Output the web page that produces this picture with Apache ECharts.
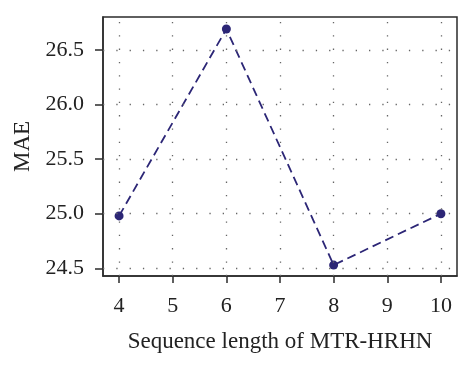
<!DOCTYPE html>
<html>
<head>
<meta charset="utf-8">
<script src="https://cdn.jsdelivr.net/npm/echarts@6/dist/echarts.min.js"></script>
<style>
  html, body { margin: 0; padding: 0; background: #fff; }
  #chart { width: 474px; height: 368px; }
</style>
</head>
<body>
<div id="chart"></div>
<script>
const seqLengths = [4, 6, 8, 10]
const maeValues = [24.98, 26.69, 24.53, 25.0]
const xTicks = [4, 5, 6, 7, 8, 9, 10]
const yTicks = [24.5, 25.0, 25.5, 26.0, 26.5]

const chart = echarts.init(document.getElementById('chart'))
const font = 'Liberation Serif, DejaVu Serif, serif'
const frame = '#2b2b2b'
const dots = { color: '#666', width: 1.3, type: [1.3, 12] }

chart.setOption({
  animation: false,
  grid: { left: 103, right: 17, top: 17, bottom: 92, show: true, borderColor: frame, borderWidth: 1.5 },
  xAxis: {
    type: 'value', min: 3.7, max: 10.3,
    name: 'Sequence length of MTR-HRHN', nameLocation: 'middle', nameGap: 54,
    nameTextStyle: { fontFamily: font, fontSize: 23, color: '#222' },
    axisLine: { show: true, onZero: false, lineStyle: { color: frame, width: 1.5 } },
    axisTick: { show: true, length: 7, customValues: xTicks, lineStyle: { color: frame, width: 1.5 } },
    axisLabel: { customValues: xTicks, margin: 19, fontFamily: font, fontSize: 22, color: '#222' },
    splitLine: { show: false }
  },
  yAxis: {
    type: 'value', min: 24.43, max: 26.8,
    name: 'MAE', nameLocation: 'middle', nameGap: 68,
    nameTextStyle: { fontFamily: font, fontSize: 23, color: '#222' },
    axisLine: { show: true, onZero: false, lineStyle: { color: frame, width: 1.5 } },
    axisTick: { show: true, length: 8, customValues: yTicks, lineStyle: { color: frame, width: 1.5 } },
    axisLabel: { customValues: yTicks, margin: 19, fontFamily: font, fontSize: 22, color: '#222',
      formatter: v => v.toFixed(1) },
    splitLine: { show: false }
  },
  series: [{
    type: 'line',
    data: seqLengths.map((x, i) => [x, maeValues[i]]),
    symbol: 'circle', symbolSize: 9,
    itemStyle: { color: '#2c2676' },
    lineStyle: { color: '#2c2676', width: 1.8, type: [9, 5] },
    markLine: {
      silent: true, symbol: 'none', label: { show: false },
      lineStyle: dots,
      data: xTicks.map(x => ({ xAxis: x })).concat(yTicks.map(y => ({ yAxis: y })))
    },
    z: 3
  }]
})
</script>
</body>
</html>
